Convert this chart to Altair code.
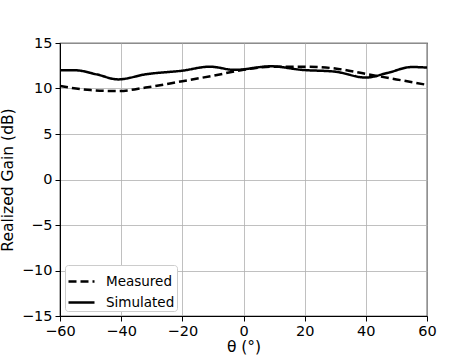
import altair as alt
import pandas as pd

theta_meas = [-60, -50, -41, -32, -20, -10, 0, 9, 20, 30, 40, 50, 60]
gain_meas = [10.27, 9.83, 9.72, 10.1, 10.8, 11.4, 12.05, 12.4, 12.4, 12.2, 11.6, 11.0, 10.4]

theta_sim = [-60, -55, -48, -41, -32, -20, -11, -3, 9, 19, 30, 40, 47, 55, 60]
gain_sim = [12.0, 12.0, 11.55, 11.0, 11.56, 11.96, 12.4, 12.05, 12.44, 12.05, 11.85, 11.2, 11.7, 12.36, 12.3]

df = pd.concat([
    pd.DataFrame({"theta": theta_meas, "gain": gain_meas, "series": "Measured"}),
    pd.DataFrame({"theta": theta_sim, "gain": gain_sim, "series": "Simulated"}),
])

font = "DejaVu Sans"

chart = alt.Chart(df).mark_line(color="black", strokeWidth=2.5, interpolate="monotone").encode(
    x=alt.X("theta:Q", title="θ (°)",
            scale=alt.Scale(domain=[-60, 60], nice=False),
            axis=alt.Axis(values=[-60, -40, -20, 0, 20, 40, 60])),
    y=alt.Y("gain:Q", title="Realized Gain (dB)",
            scale=alt.Scale(domain=[-15, 15], nice=False),
            axis=alt.Axis(values=[-15, -10, -5, 0, 5, 10, 15])),
    strokeDash=alt.StrokeDash("series:N",
        scale=alt.Scale(domain=["Measured", "Simulated"], range=[[8, 4], [1, 0]]),
        legend=alt.Legend(title=None, orient="none", legendX=5, legendY=222,
                          symbolType="stroke", symbolStrokeColor="black", symbolStrokeWidth=2.5,
                          symbolSize=676, labelFontSize=13.5, labelFont=font, labelColor="black",
                          strokeColor="#cccccc", fillColor="white", padding=2, cornerRadius=3,
                          rowPadding=-9, labelOffset=10)),
).properties(
    width=367, height=273,
    padding={"left": 60, "top": 43, "right": 47, "bottom": 39},
    autosize=alt.AutoSizeParams(type="none"),
).configure_view(
    stroke="black", strokeWidth=1.2
).configure_axis(
    grid=True, gridColor="#b0b0b0", gridWidth=0.8,
    domainColor="black", domainWidth=1,
    tickColor="black", tickSize=5, tickWidth=1,
    labelFont=font, labelFontSize=14.5, labelColor="black", labelPadding=3,
    titleFont=font, titleFontSize=15.5, titleColor="black", titleFontWeight="normal",
    labelFlush=False,
).configure_axisX(titlePadding=2).configure_axisY(titlePadding=6)

chart.save("out.html", embed_options={"renderer": "svg", "actions": False})
